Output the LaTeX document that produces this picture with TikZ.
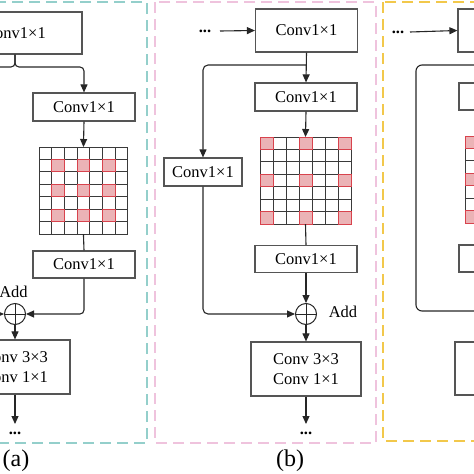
\documentclass[tikz,border=0pt]{standalone}
\usepackage{fontspec}
\setmainfont{Liberation Serif}
\usetikzlibrary{arrows.meta}
\definecolor{tealc}{HTML}{94CFCB}
\definecolor{pinkc}{HTML}{EFC3DD}
\definecolor{yellc}{HTML}{F2C84B}
\definecolor{boxc}{HTML}{555555}
\definecolor{redc}{HTML}{D8434D}
\definecolor{redf}{HTML}{EBB3B6}
\definecolor{gridc}{HTML}{3A3A3A}
\begin{document}
\begin{tikzpicture}[x=1pt,y=-1pt,
  box/.style={draw=boxc,line width=1.2pt,fill=white,inner sep=0pt,align=center,font=\fontsize{16.5}{20}\selectfont},
  conn/.style={draw=black!85,line width=1.1pt},
  arr/.style={conn,-{Triangle[length=8pt,width=7pt]}},
  addc/.style={circle,draw=black!85,line width=1pt,minimum size=21pt,inner sep=0pt,fill=white},
  lbl/.style={inner sep=0pt,font=\fontsize{16.5}{20}\selectfont},
  dots/.style={inner sep=0pt,font=\fontsize{16.5}{20}\selectfont\bfseries},
  captxt/.style={inner sep=0pt,font=\fontsize{24}{28}\selectfont},
  panel/.style={line width=1.3pt,dash pattern=on 11pt off 6pt},
  cell/.style={draw=redc,fill=redf,line width=0.9pt}
]
\useasboundingbox (0,0) rectangle (474,474);
\clip (0,0) rectangle (474,474);

% panels
\draw[panel,draw=tealc] (-20,2) rectangle (147,443);
\draw[panel,draw=pinkc] (155,2) rectangle (376,443);
\draw[panel,draw=yellc] (383,2) rectangle (520,441);

% ---------- (a) ----------
\node[box,minimum width=134pt,minimum height=42pt] (a1) at (15,33) {Conv1×1};
\node[box,minimum width=102pt,minimum height=28pt] (a2) at (84,107) {Conv1×1};
\begin{scope}[shift={(39,147)}]
  \foreach \i in {0,...,6} \foreach \j in {0,...,6}
    \draw[gridc,line width=0.9pt] (\i*12.7,\j*12.45) rectangle ++(12.7,12.45);
  \foreach \i in {1,3,5} \foreach \j in {1,3,5}
    \draw[cell] (\i*12.7,\j*12.45) rectangle ++(12.7,12.45);
  \coordinate (gat) at (44.45,0);
  \coordinate (gab) at (44.45,87.15);
\end{scope}
\node[box,minimum width=102pt,minimum height=27pt] (a3) at (84,264.5) {Conv1×1};
\node[addc] (ap) at (15,314) {};
\draw[black!85,line width=1pt] (ap.north) -- (ap.south) (ap.west) -- (ap.east);
\node[lbl] (aadd) at (13.5,292) {Add};
\node[box,minimum width=110pt,minimum height=54pt] (a4) at (15,367) {Conv 3×3\\Conv 1×1};
\node[dots] (adots) at (15,433) {...};
\coordinate (asplit) at (15,67);
\coordinate (aleft) at (-20,67);
\coordinate (ain) at (-20,314);
\coordinate (aend) at (15,424);
\draw[arr,rounded corners=4pt] (a1.south) -- (asplit) -- (a2.north |- asplit) -- (a2.north);
\draw[conn,rounded corners=4pt] (a1.south) -- (asplit) -- (aleft);
\draw[arr] (a2.south) -- (gat);
\draw[conn] (gab) -- (a3.north);
\draw[arr,rounded corners=4pt] (a3.south) -- (a3.south |- ap) -- (ap.east);
\draw[arr] (ain) -- (ap.west);
\draw[arr] (ap.south) -- (a4.north);
\draw[arr] (a4.south) -- (aend);

% ---------- (b) ----------
\node[box,minimum width=102pt,minimum height=43pt] (b1) at (306.5,30.5) {Conv1×1};
\node[dots] (bdots0) at (205,31) {...};
\coordinate (bst) at (220,31);
\draw[arr] (bst) -- (b1.west);
\node[box,minimum width=102pt,minimum height=28pt] (b2) at (306,97) {Conv1×1};
\node[box,minimum width=78pt,minimum height=28pt] (bL) at (203,172) {Conv1×1};
\begin{scope}[shift={(260,137)}]
  \foreach \i in {0,...,6} \foreach \j in {0,...,6}
    \draw[gridc,line width=0.9pt] (\i*13,\j*12.45) rectangle ++(13,12.45);
  \foreach \i in {0,3,6} \foreach \j in {0,3,6}
    \draw[cell] (\i*13,\j*12.45) rectangle ++(13,12.45);
  \coordinate (gbt) at (45.5,0);
  \coordinate (gbb) at (45.5,87.15);
\end{scope}
\node[box,minimum width=102pt,minimum height=27pt] (b3) at (306,259) {Conv1×1};
\node[addc] (bp) at (306,314) {};
\draw[black!85,line width=1pt] (bp.north) -- (bp.south) (bp.west) -- (bp.east);
\node[lbl] (badd) at (343,312) {Add};
\node[box,minimum width=110pt,minimum height=54pt] (b4) at (306,369) {Conv 3×3\\Conv 1×1};
\node[dots] (bdots) at (306,433) {...};
\coordinate (bsplit) at (306,65);
\coordinate (bend) at (306,424);
\draw[arr] (b1.south) -- (b2.north);
\draw[arr,rounded corners=5pt] (bsplit) -- (bL.north |- bsplit) -- (bL.north);
\draw[arr] (b2.south) -- (gbt);
\draw[conn] (gbb) -- (b3.north);
\draw[arr] (b3.south) -- (bp.north);
\draw[arr,rounded corners=5pt] (bL.south) -- (bL.south |- bp) -- (bp.west);
\draw[arr] (bp.south) -- (b4.north);
\draw[arr] (b4.south) -- (bend);

% ---------- (c) ----------
\node[box,minimum width=102pt,minimum height=43pt] (c1) at (509,30.5) {};
\node[dots] (cdots0) at (398,32) {...};
\coordinate (cst) at (410,32);
\draw[arr] (cst) -- (c1.west);
\draw[conn,rounded corners=6pt] (520,65) -- (416,65) -- (416,311) -- (520,311);
\node[box,minimum width=102pt,minimum height=27pt] (c2) at (510,96.5) {};
\begin{scope}[shift={(465,136)}]
  \foreach \i in {0,...,6} \foreach \j in {0,...,6}
    \draw[gridc,line width=0.9pt] (\i*13,\j*12.45) rectangle ++(13,12.45);
  \foreach \i in {0,3,6} \foreach \j in {0,3,6}
    \draw[cell] (\i*13,\j*12.45) rectangle ++(13,12.45);
\end{scope}
\node[box,minimum width=102pt,minimum height=27pt] (c3) at (510,258.5) {};
\node[box,minimum width=110pt,minimum height=53pt] (c4) at (510,368.5) {};

% captions
\node[captxt] (capa) at (16,461) {(a)};
\node[captxt] (capb) at (290,461) {(b)};
\end{tikzpicture}
\end{document}
